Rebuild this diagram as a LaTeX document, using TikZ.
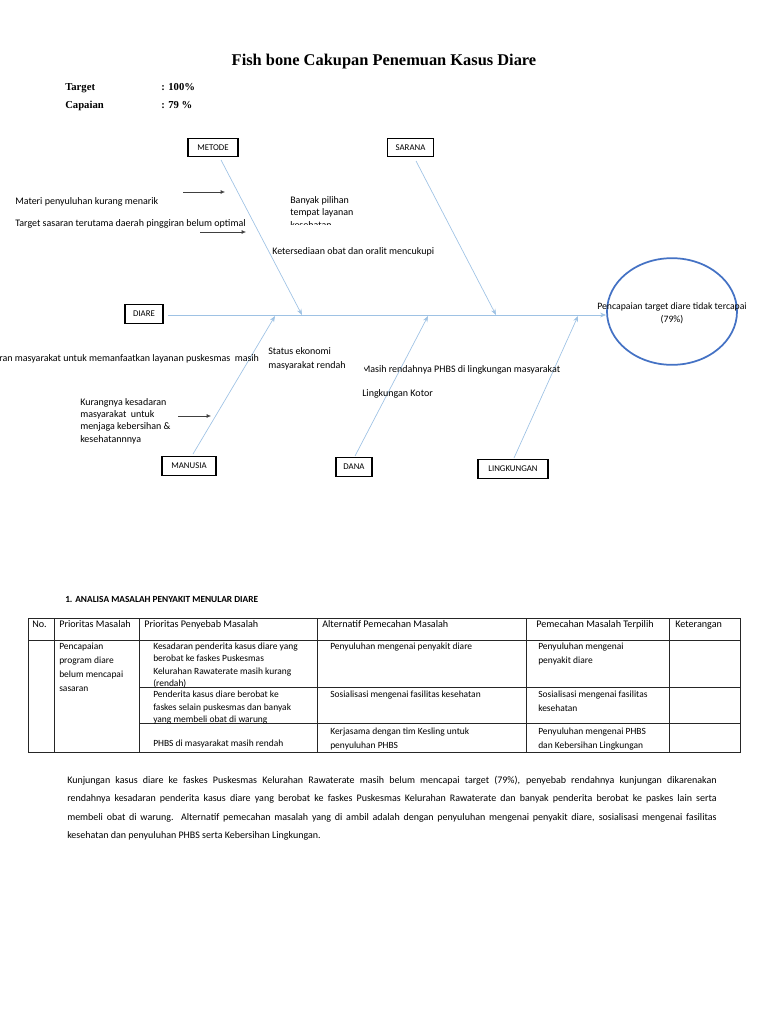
\documentclass[tikz,border=0pt]{standalone}
\usepackage{fontspec}
\setmainfont{Carlito}
\newfontfamily\titlefont{Liberation Serif}
\usetikzlibrary{arrows.meta,positioning,shapes.geometric}
\definecolor{bonecol}{RGB}{158,194,228}
\definecolor{ovalcol}{RGB}{68,114,196}

\begin{document}
\begin{tikzpicture}[x=0.75pt,y=-0.75pt,
  every node/.style={inner sep=0pt,font=\fontsize{7.5}{9.4}\selectfont},
  catbox/.style={draw,line width=0.8pt,minimum height=14pt,font=\fontsize{6.6}{8}\selectfont},
  lbl/.style={anchor=west,text height=5.4pt,text depth=1.6pt},
  lines/.style={anchor=north west,align=left},
  bone/.style={bonecol,line width=0.5pt,-{Stealth[length=4.5pt,width=3.5pt]}},
  cue/.style={black!75,line width=0.4pt,-{Latex[length=3.2pt,width=2.8pt]}},
  tabline/.style={line width=0.7pt,black!85},
  head/.style={anchor=west,font=\fontsize{7.6}{9}\selectfont,text height=5.4pt,text depth=1.6pt},
  cell/.style={anchor=north west,align=left,font=\fontsize{7.1}{9.3}\selectfont}]
\useasboundingbox (0,0) rectangle (768,1024);

% title and target
\node[font=\titlefont\bfseries\fontsize{12.3}{14}\selectfont] (title) at (384,62) {Fish bone Cakupan Penemuan Kasus Diare};
\node[lbl,font=\titlefont\bfseries\fontsize{8}{10}\selectfont] (target) at (65,88) {Target};
\node[lbl,font=\titlefont\bfseries\fontsize{8}{10}\selectfont] (targetval) at (161,88) {: 100\%};
\node[lbl,font=\titlefont\bfseries\fontsize{8}{10}\selectfont] (capaian) at (65,106) {Capaian};
\node[lbl,font=\titlefont\bfseries\fontsize{8}{10}\selectfont] (capaianval) at (161,106) {: 79 \%};

% category boxes
\node[catbox,minimum width=37.5pt] (metode) at (213,147.5) {METODE};
\node[catbox,minimum width=35pt] (sarana) at (410.5,147.5) {SARANA};
\node[catbox,minimum width=28.5pt] (diare) at (144,314) {DIARE};
\node[catbox,minimum width=40.5pt] (manusia) at (189,466) {MANUSIA};
\node[catbox,minimum width=27pt] (dana) at (354,467) {DANA};
\node[catbox,minimum width=52.5pt] (lingkungan) at (513,469) {LINGKUNGAN};

% effect (head of the fish)
\node[ellipse,draw=ovalcol,line width=1.3pt,minimum width=97.5pt,minimum height=80pt] (effect) at (672,311.5) {};
\node[align=center,font=\fontsize{7.3}{9.6}\selectfont] (effecttxt) at (672,313.5) {Pencapaian target diare tidak tercapai\\(79\%)};

% spine and bones
\coordinate (mhead) at (302,315);
\coordinate (shead) at (496,315);
\coordinate (uhead) at (275,316);
\coordinate (dhead) at (428,316);
\coordinate (lhead) at (578,316);
\coordinate (mtail) at (221,160);
\coordinate (stail) at (416,161);
\coordinate (utail) at (193,454);
\coordinate (dtail) at (355,456);
\coordinate (ltail) at (514,458);
\draw[bone] ([xshift=3.5pt]diare.east |- 0,315) -- (effect.west |- 0,315);
\draw[bone] (mtail) -- (mhead);
\draw[bone] (stail) -- (shead);
\draw[bone] (utail) -- (uhead);
\draw[bone] (dtail) -- (dhead);
\draw[bone] (ltail) -- (lhead);

% causes
\node[lbl] (materi) at (15,202) {Materi penyuluhan kurang menarik};
\node[lbl] (sasaran) at (15,224) {Target sasaran terutama daerah pinggiran belum optimal};
\begin{scope}
\clip (280,185) rectangle (420,224.5);
\node[lines,font=\fontsize{7.5}{9.4}\selectfont] (pilihan) at (290,196) {Banyak pilihan\\tempat layanan\\kesehatan};
\end{scope}
\node[lbl] (obat) at (272,252) {Ketersediaan obat dan oralit mencukupi};
\begin{scope}
\clip (0,340) rectangle (262,380);
\node[lbl] (manfaat) at (-1,359) {ran masyarakat untuk memanfaatkan layanan puskesmas\ \ masih};
\end{scope}
\node[lines,font=\fontsize{7.5}{10.5}\selectfont] (ekonomi) at (268,347) {Status ekonomi\\masyarakat rendah};
\begin{scope}
\clip (364,355) rectangle (600,385);
\node[lbl] (phbs) at (361.5,370) {Masih rendahnya PHBS di lingkungan masyarakat};
\end{scope}
\node[lbl] (kotor) at (362,394) {Lingkungan Kotor};
\node[lines,font=\fontsize{7.5}{9.2}\selectfont] (kesadaran) at (80,398) {Kurangnya kesadaran\\masyarakat\ \ untuk\\menjaga kebersihan \&\\kesehatannnya};
\coordinate (c1a) at (183,192);
\coordinate (c1b) at (225,192);
\coordinate (c2a) at (200,232);
\coordinate (c2b) at (246,232);
\coordinate (c3a) at (178,416);
\coordinate (c3b) at (211,416);
\draw[cue] (c1a) -- (c1b);
\draw[cue] (c2a) -- (c2b);
\draw[cue] (c3a) -- (c3b);

% analysis table
\node[lbl,font=\bfseries\fontsize{7}{9}\selectfont] (section) at (65,600) {1. ANALISA MASALAH PENYAKIT MENULAR DIARE};
\draw[tabline] (28,618) rectangle (740,752);
\draw[tabline] (28,640) -- (740,640);
\foreach \x in {54,139,317,526,669}
  \draw[tabline] (\x,618) -- (\x,752);
\foreach \y in {687,723}
  \draw[tabline] (139,\y) -- (740,\y);
\node[head] (hno) at (32,625) {No.};
\node[head] (hprio) at (59,625) {Prioritas Masalah};
\node[head] (hsebab) at (144,625) {Prioritas Penyebab Masalah};
\node[head] (halt) at (322,625) {Alternatif Pemecahan Masalah};
\node[head] (hpilih) at (536,625) {Pemecahan Masalah Terpilih};
\node[head] (hket) at (675,625) {Keterangan};
\node[cell,font=\fontsize{7.1}{10.5}\selectfont] (prio) at (59,643) {Pencapaian\\program diare\\belum mencapai\\sasaran};
\node[cell] (sebab1) at (153,642.5) {Kesadaran penderita kasus diare yang\\berobat ke faskes Puskesmas\\Kelurahan Rawaterate masih kurang\\(rendah)};
\node[cell] (sebab2) at (153,691) {Penderita kasus diare berobat ke\\faskes selain puskesmas dan banyak\\yang membeli obat di warung};
\node[cell] (sebab3) at (153,740) {PHBS di masyarakat masih rendah};
\node[cell] (alt1) at (330,643) {Penyuluhan mengenai penyakit diare};
\node[cell] (alt2) at (330,691) {Sosialisasi mengenai fasilitas kesehatan};
\node[cell,font=\fontsize{7.1}{10.3}\selectfont] (alt3) at (330,728) {Kerjasama dengan tim Kesling untuk\\penyuluhan PHBS};
\node[cell,font=\fontsize{7.1}{10}\selectfont] (pilih1) at (538,643) {Penyuluhan mengenai\\penyakit diare};
\node[cell,font=\fontsize{7.1}{10}\selectfont] (pilih2) at (538,691) {Sosialisasi mengenai fasilitas\\kesehatan};
\node[cell,font=\fontsize{7.1}{10}\selectfont] (pilih3) at (538,728) {Penyuluhan mengenai PHBS\\dan Kebersihan Lingkungan};

% conclusion
\node[anchor=north west,text width=487pt,align=justify,font=\fontsize{7.5}{13.7}\selectfont] (simpulan) at (67,776) {Kunjungan kasus diare ke faskes Puskesmas Kelurahan Rawaterate masih belum mencapai target (79\%), penyebab rendahnya kunjungan dikarenakan\linebreak rendahnya kesadaran penderita kasus diare yang berobat ke faskes Puskesmas Kelurahan Rawaterate dan banyak penderita berobat ke paskes lain serta\linebreak membeli obat di warung. Alternatif pemecahan masalah yang di ambil adalah dengan penyuluhan mengenai penyakit diare, sosialisasi mengenai fasilitas\linebreak kesehatan dan penyuluhan PHBS serta Kebersihan Lingkungan.};
\end{tikzpicture}
\end{document}
